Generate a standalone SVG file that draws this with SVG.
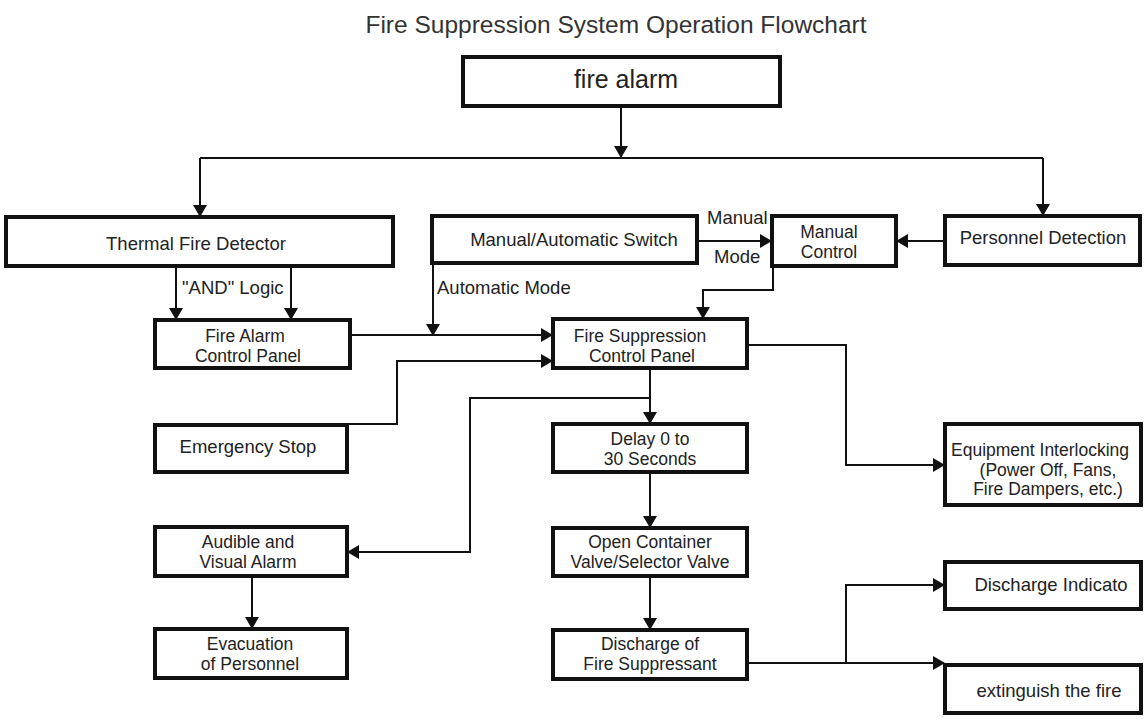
<svg xmlns="http://www.w3.org/2000/svg" width="1147" height="720" viewBox="0 0 1147 720">
<style>
.box{fill:#fff;stroke:#111;stroke-width:4}
.t{font-family:"Liberation Sans",Arial,sans-serif;font-size:18.5px;fill:#222;text-anchor:middle}
.m{font-family:"Liberation Sans",Arial,sans-serif;font-size:17.5px;fill:#222;text-anchor:middle}
.l{font-family:"Liberation Sans",Arial,sans-serif;font-size:18.5px;fill:#222}
.c{fill:none;stroke:#111;stroke-width:2}
</style>
<defs>
<marker id="ah" markerUnits="userSpaceOnUse" markerWidth="12" markerHeight="14" refX="11" refY="7" orient="auto">
<path d="M0,0 L12,7 L0,14 z" fill="#111"/>
</marker>
<clipPath id="eqclip"><rect x="947" y="426" width="192" height="77"/></clipPath>
</defs>
<rect width="1147" height="720" fill="#fff"/>
<text x="616" y="33" style="font-family:'Liberation Sans',Arial,sans-serif;font-size:24.5px;fill:#333;text-anchor:middle">Fire Suppression System Operation Flowchart</text>

<g id="connectors">
<path class="c" d="M621,106 V157" marker-end="url(#ah)"/>
<path class="c" d="M200,158 H1043"/>
<path class="c" d="M200,158 V216" marker-end="url(#ah)"/>
<path class="c" d="M1043,158 V215" marker-end="url(#ah)"/>
<path class="c" d="M176,267 V319" marker-end="url(#ah)"/>
<path class="c" d="M291,267 V319" marker-end="url(#ah)"/>
<path class="c" d="M697,241 H771" marker-end="url(#ah)"/>
<path class="c" d="M945,241 H897" marker-end="url(#ah)"/>
<path class="c" d="M773,266 V290 H703 V318" marker-end="url(#ah)"/>
<path class="c" d="M433,263 V335" marker-end="url(#ah)"/>
<path class="c" d="M350,335 H552" marker-end="url(#ah)"/>
<path class="c" d="M347,424 H397 V361 H552" marker-end="url(#ah)"/>
<path class="c" d="M650,368 V423" marker-end="url(#ah)"/>
<path class="c" d="M650,398 H470 V552 H348" marker-end="url(#ah)"/>
<path class="c" d="M747,345 H846 V465 H944" marker-end="url(#ah)"/>
<path class="c" d="M650,472 V527" marker-end="url(#ah)"/>
<path class="c" d="M650,576 V629" marker-end="url(#ah)"/>
<path class="c" d="M252,576 V628" marker-end="url(#ah)"/>
<path class="c" d="M747,663 H944" marker-end="url(#ah)"/>
<path class="c" d="M846,663 V585 H944" marker-end="url(#ah)"/>
<text class="l" x="182" y="294">"AND" Logic</text>
<text class="l" x="707" y="224">Manual</text>
<text class="l" x="714" y="263">Mode</text>
<text class="l" x="437" y="294">Automatic Mode</text>
</g>

<g id="fire-alarm"><rect class="box" x="463" y="57" width="317" height="49"/><text class="t" x="626" y="88" style="font-size:25px">fire alarm</text></g>
<g id="thermal"><rect class="box" x="6" y="217" width="387" height="49"/><text class="t" x="196" y="250">Thermal Fire Detector</text></g>
<g id="switch"><rect class="box" x="432" y="216" width="265" height="47"/><text class="t" x="574" y="246">Manual/Automatic Switch</text></g>
<g id="manual-control"><rect class="box" x="772" y="216" width="124" height="50"/><text class="m"><tspan x="829" y="238">Manual</tspan><tspan x="829" y="257.5">Control</tspan></text></g>
<g id="personnel"><rect class="box" x="945" y="216" width="195" height="49"/><text class="t" x="1043" y="244">Personnel Detection</text></g>
<g id="facp"><rect class="box" x="155" y="320" width="195" height="48"/><text class="m"><tspan x="245" y="342">Fire Alarm</tspan><tspan x="248" y="361.5">Control Panel</tspan></text></g>
<g id="fscp"><rect class="box" x="553" y="319" width="194" height="49"/><text class="m"><tspan x="640" y="342">Fire Suppression</tspan><tspan x="642" y="361.5">Control Panel</tspan></text></g>
<g id="estop"><rect class="box" x="155" y="425" width="192" height="47"/><text class="t" x="248" y="453">Emergency Stop</text></g>
<g id="delay"><rect class="box" x="553" y="424" width="194" height="48"/><text class="m"><tspan x="650" y="445">Delay 0 to</tspan><tspan x="650" y="464.5">30 Seconds</tspan></text></g>
<g id="interlock"><rect class="box" x="945" y="424" width="196" height="81"/><text clip-path="url(#eqclip)"><tspan class="l" x="951" y="456" style="font-size:17.5px">Equipment Interlocking</tspan><tspan class="m" x="1048" y="475.5">(Power Off, Fans,</tspan><tspan class="m" x="1048" y="495">Fire Dampers, etc.)</tspan></text></g>
<g id="audible"><rect class="box" x="155" y="527" width="192" height="49"/><text class="m"><tspan x="248" y="548">Audible and</tspan><tspan x="248" y="567.5">Visual Alarm</tspan></text></g>
<g id="open-valve"><rect class="box" x="553" y="528" width="194" height="48"/><text class="m"><tspan x="650" y="548">Open Container</tspan><tspan x="650" y="567.5">Valve/Selector Valve</tspan></text></g>
<g id="evacuation"><rect class="box" x="155" y="629" width="192" height="49"/><text class="m"><tspan x="250" y="650">Evacuation</tspan><tspan x="250" y="669.5">of Personnel</tspan></text></g>
<g id="discharge"><rect class="box" x="553" y="630" width="194" height="49"/><text class="m"><tspan x="650" y="650">Discharge of</tspan><tspan x="650" y="669.5">Fire Suppressant</tspan></text></g>
<g id="indicator"><rect class="box" x="945" y="562" width="196" height="47"/><text class="t" x="1051" y="591">Discharge Indicato</text></g>
<g id="extinguish"><rect class="box" x="945" y="665" width="196" height="48"/><text class="t" x="1049" y="697">extinguish the fire</text></g>
</svg>
